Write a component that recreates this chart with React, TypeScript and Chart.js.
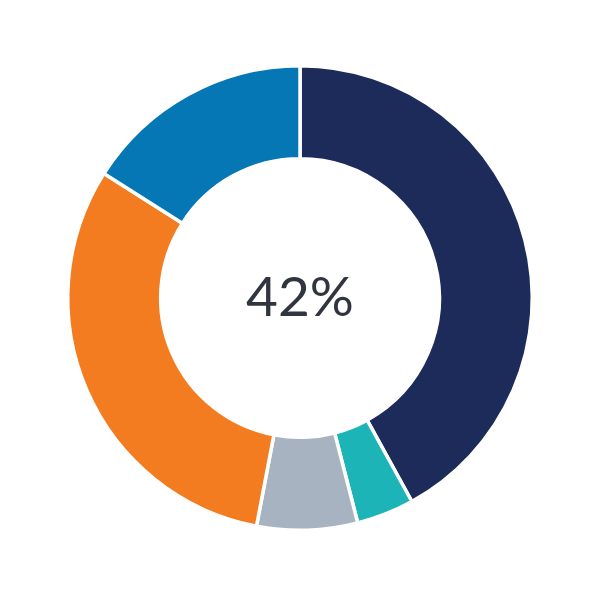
import { useEffect, useRef } from "react";
import { Chart, registerables, type ChartConfiguration, type Plugin } from "chart.js";

Chart.register(...registerables);

const labels = ["Navy", "Teal", "Gray", "Orange", "Blue"];
const values = [42, 4, 7, 31, 16];
const colors = ["#1C2B5A", "#1CB4B7", "#A8B3C2", "#F37C20", "#0577B5"];
const centerLabel = "42%";

const centerText: Plugin<"doughnut"> = {
  id: "centerText",
  afterDraw(chart) {
    const meta = chart.getDatasetMeta(0);
    const arc = meta.data[0] as any;
    if (!arc) return;
    const { ctx } = chart;
    ctx.save();
    ctx.fillStyle = "#30353F";
    ctx.font = "400 55px Lato, 'Open Sans', sans-serif";
    ctx.textAlign = "center";
    ctx.textBaseline = "middle";
    ctx.fillText(centerLabel, arc.x, arc.y);
    ctx.restore();
  },
};

export default function App() {
  const canvasRef = useRef<HTMLCanvasElement>(null);
  const chartRef = useRef<Chart | null>(null);

  useEffect(() => {
    const ctx = canvasRef.current?.getContext("2d");
    if (!ctx) return;
    chartRef.current?.destroy();

    const config: ChartConfiguration<"doughnut"> = {
      type: "doughnut",
      data: {
        labels,
        datasets: [
          {
            data: values,
            backgroundColor: colors,
            borderColor: "#FFFFFF",
            borderWidth: 3.5,
          },
        ],
      },
      options: {
        responsive: false,
        animation: false,
        cutout: "60%",
        layout: { padding: { left: 66, right: 66, top: 64, bottom: 68 } },
        plugins: {
          legend: { display: false },
          tooltip: { enabled: false },
        },
      },
      plugins: [centerText],
    };

    chartRef.current = new Chart(ctx, config);
    return () => chartRef.current?.destroy();
  }, []);

  return (
    <div style={{ position: "fixed", left: 0, top: 0, width: 600, height: 600, background: "#fff" }}>
      <canvas ref={canvasRef} width={600} height={600} style={{ width: 600, height: 600 }} />
    </div>
  );
}
